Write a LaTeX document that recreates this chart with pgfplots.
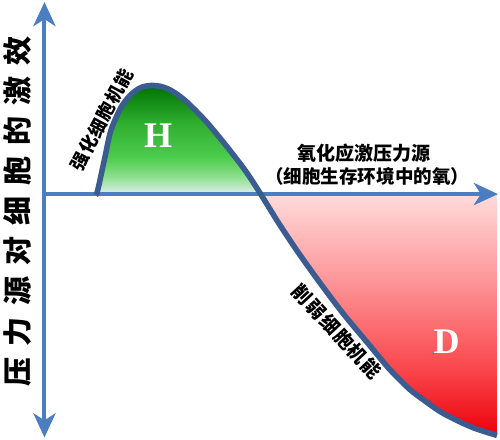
\documentclass[border=0pt]{standalone}
\usepackage{pgfplots}
\pgfplotsset{compat=1.18}
\usepackage{fontspec}
\setmainfont{Liberation Serif}
\newfontfamily\cjk{Noto Sans CJK SC}
\usetikzlibrary{arrows.meta}
\definecolor{axisblue}{RGB}{74,126,193}
\definecolor{curveblue}{RGB}{59,92,145}
\pgfdeclareverticalshading{greensh}{100bp}{
 rgb(0bp)=(0.88,0.93,0.94); rgb(25bp)=(0.88,0.93,0.94);
 rgb(33bp)=(0.55,0.88,0.55); rgb(42bp)=(0.30,0.80,0.30);
 rgb(58bp)=(0.18,0.68,0.18); rgb(75bp)=(0.0,0.45,0.02); rgb(100bp)=(0.0,0.45,0.02)}
\pgfdeclareverticalshading{redsh}{100bp}{
 rgb(0bp)=(0.93,0.0,0.04); rgb(25bp)=(0.93,0.0,0.04);
 rgb(40bp)=(0.98,0.30,0.32); rgb(58bp)=(0.99,0.60,0.61);
 rgb(75bp)=(1.0,0.86,0.86); rgb(100bp)=(1.0,0.86,0.86)}
\begin{document}
\begin{tikzpicture}
\begin{axis}[
  width=500bp, height=444bp, scale only axis,
  xmin=0, xmax=500, ymin=0, ymax=444,
  hide axis, clip=false,
]
% curve in pixel coordinates (x, 444 - y)
\pgfplotstableread{
x y
98 247
100 252
107 284
113 311
123 334
133 347
143 354
153 356
163 355
173 351
187 341
207 321
227 297
247 271
262 248
280 219
300 189
323 157
345 128
370 98
390 74
410 54
423 44
440 32
457 23
475 15
497 8
}\curve
% green region
\addplot[draw=none, shading=greensh] coordinates {
(98,248) (100,252) (107,284) (113,311) (123,334) (133,347) (143,354) (153,356) (163,355) (173,351) (187,341) (207,321) (227,297) (247,271) (262,248)
} -- cycle;
% red region
\addplot[draw=none, shading=redsh] coordinates {
(262,248) (280,219) (300,189) (323,157) (345,128) (370,98) (390,74) (410,54) (423,44) (440,32) (457,23) (475,15) (497,8) (497,248)
} -- cycle;
% axes
\addplot[axisblue, line width=4bp, {Stealth[length=24bp,width=22bp,inset=7bp]}-{Stealth[length=24bp,width=22bp,inset=7bp]}] coordinates {(47,6) (47,439)};
\addplot[axisblue, line width=4bp, -{Stealth[length=24bp,width=22bp,inset=7bp]}] coordinates {(46,248) (498,248)};
% curve
\addplot[curveblue, line width=5.5bp, smooth, tension=0.5] table {\curve};
% texts
\node[rotate=90, font=\cjk\bfseries\fontsize{29}{30}\selectfont] at (axis cs:20,231)
 {压\hspace{11bp}力\hspace{11bp}源\hspace{11bp}对\hspace{11bp}细\hspace{11bp}胞\hspace{11bp}的\hspace{11bp}激\hspace{11bp}效};
\node[rotate=62, font=\cjk\bfseries\fontsize{18}{20}\selectfont\addfontfeatures{LetterSpace=5}] at (axis cs:104,322) {强化细胞机能};
\node[rotate=-47, font=\cjk\bfseries\fontsize{19}{20}\selectfont\addfontfeatures{LetterSpace=6}] at (axis cs:338,111) {削弱细胞机能};
\node[font=\cjk\bfseries\fontsize{19}{20}\selectfont] at (axis cs:365,289) {氧化应激压力源};
\node[fill=white, inner sep=1bp, font=\cjk\bfseries\fontsize{18.5}{20}\selectfont] at (axis cs:368,266) {（细胞生存环境中的氧）};
\node[white, font=\bfseries\fontsize{36}{36}\selectfont] at (axis cs:160,306) {H};
\node[white, font=\bfseries\fontsize{36}{36}\selectfont] at (axis cs:447,101) {D};
\end{axis}
\end{tikzpicture}
\end{document}
